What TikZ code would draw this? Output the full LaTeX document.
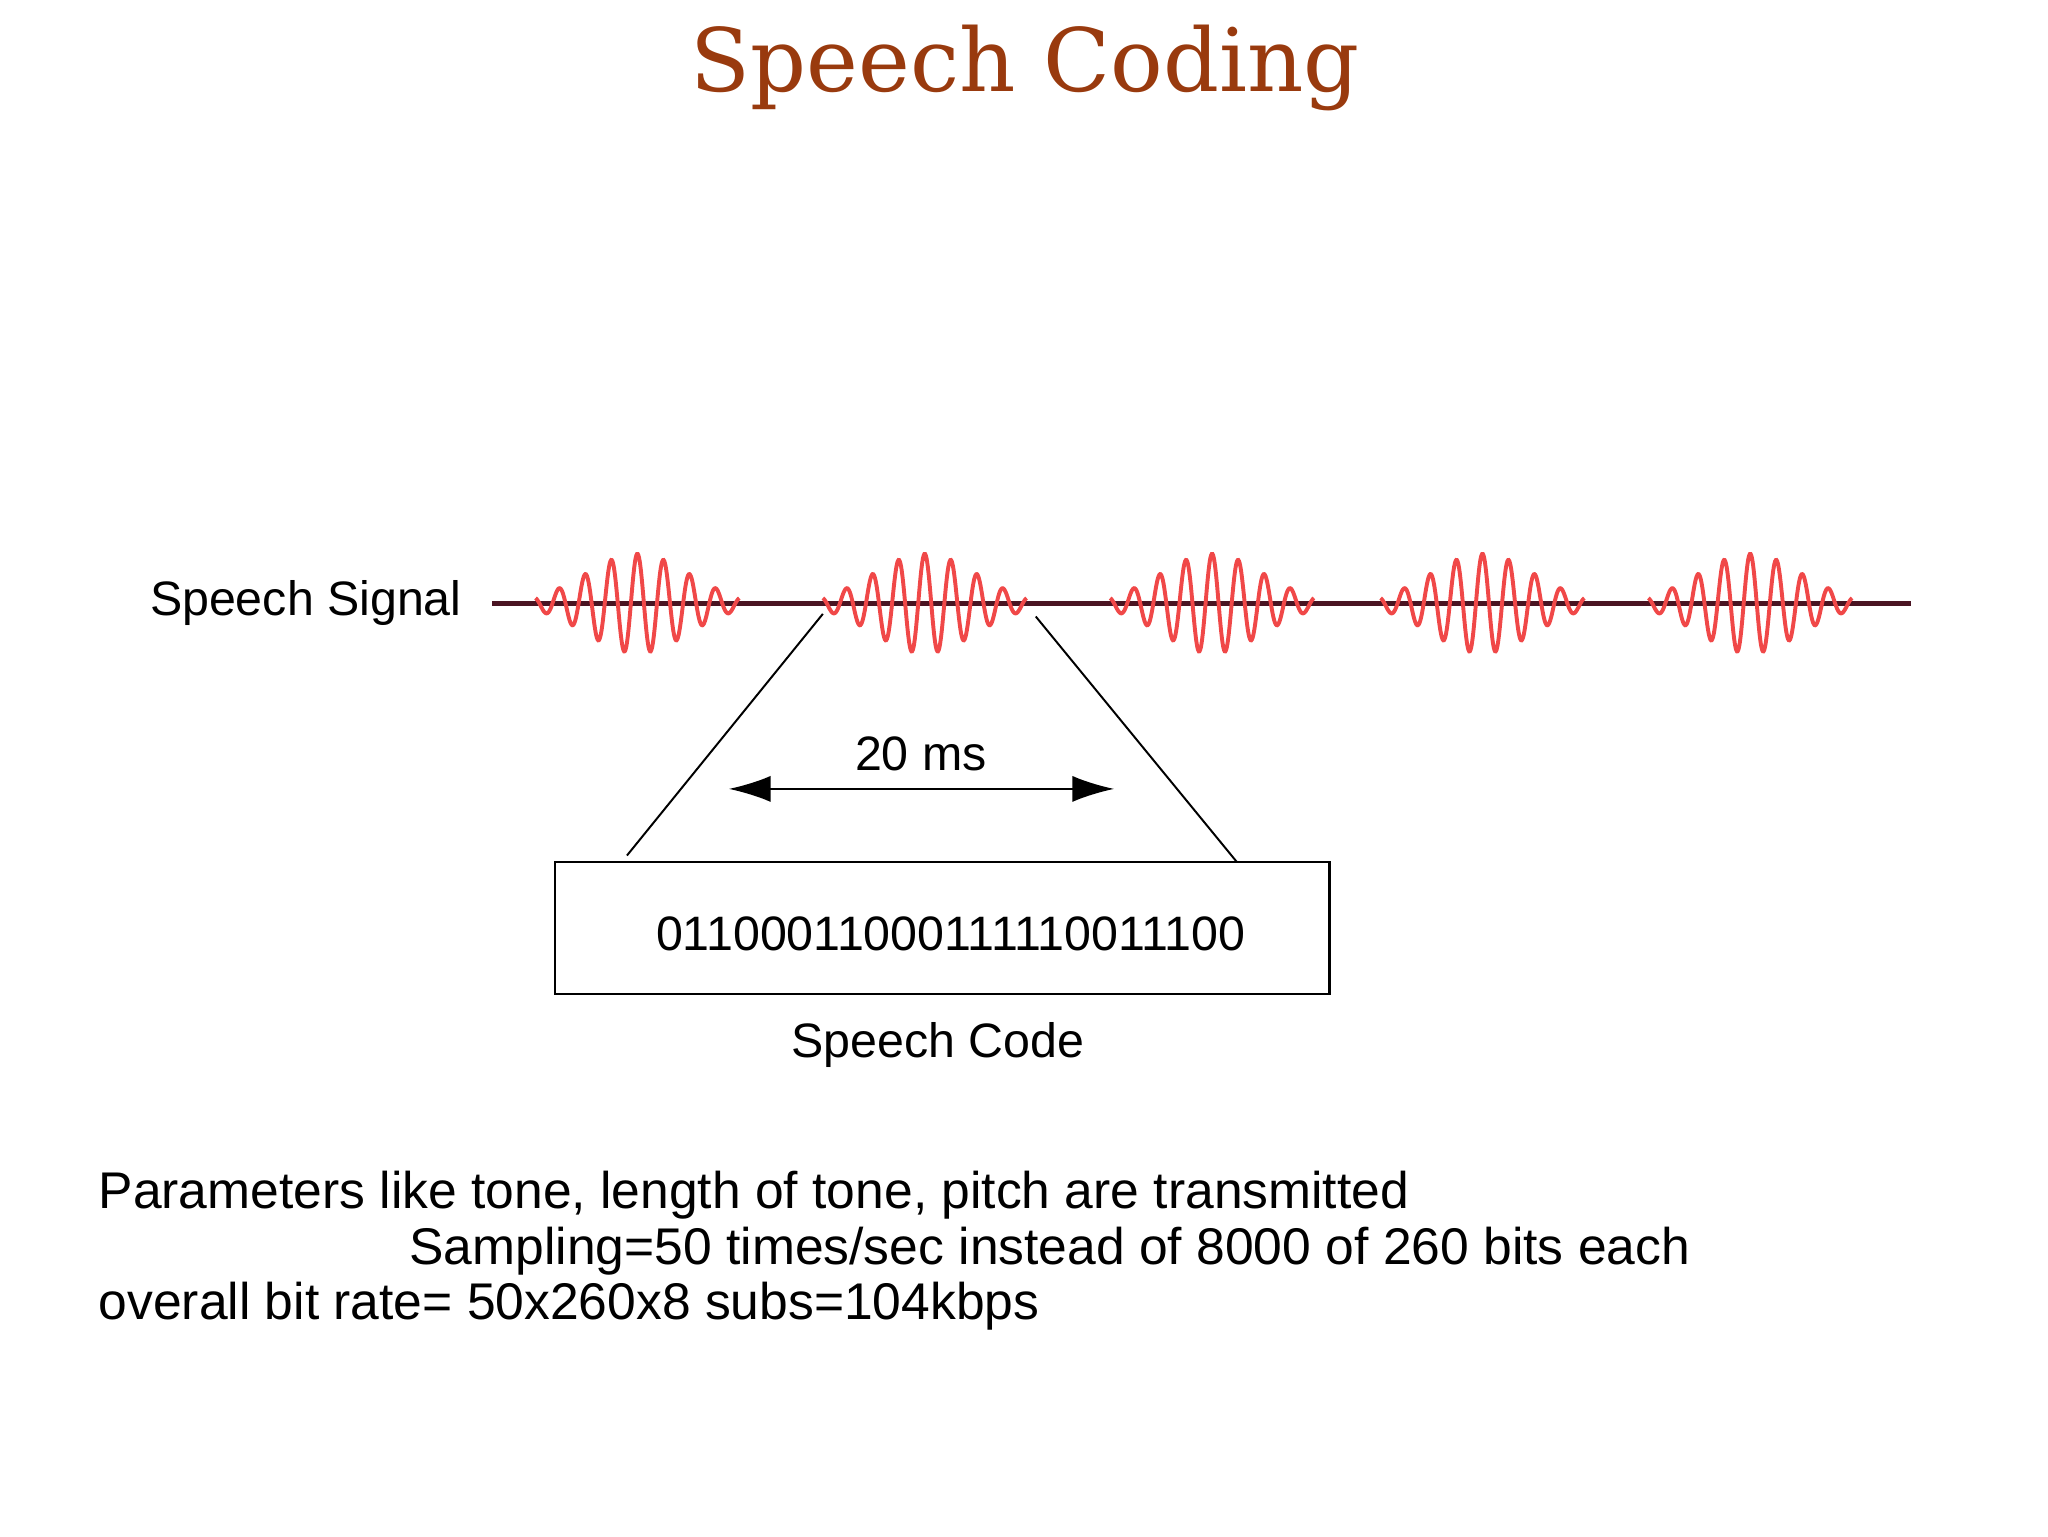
\documentclass[tikz,border=0pt]{standalone}
\usepackage{fontspec}
\setmainfont{Liberation Sans}
\newfontfamily\titlefont{DejaVu Serif}
\usetikzlibrary{arrows.meta}
\definecolor{titlec}{HTML}{993A0E}
\definecolor{wavec}{HTML}{F04848}
\definecolor{basec}{HTML}{4A1422}
\tikzset{lbl/.style={font=\fontsize{37}{44}\selectfont},
 body/.style={font=\fontsize{39.5}{46}\selectfont,anchor=west},
 thin line/.style={line width=1.5pt}}
\begin{document}
\begin{tikzpicture}[x=1pt,y=-1pt]
\useasboundingbox (0,0) rectangle (1568,1176);
\node (title) at (785,52) {\titlefont\fontsize{67}{78}\selectfont\color{titlec}Speech Coding};
\node[lbl,anchor=east] (sig) at (357,462) {Speech Signal};
\coordinate (b0) at (377,462); \coordinate (b1) at (1463,462);
\draw[basec,line width=3.5pt] (b0) -- (b1);
\foreach \c in {488,708,928,1135,1340}{
 \draw[wavec,line width=3pt,samples=300,smooth,domain=-78:78]
  plot ({\c+\x},{462-38*exp(-(\x/55)^2)*cos(18*\x)});
}
\coordinate (l1) at (630,470); \coordinate (l2) at (480,655);
\coordinate (r1) at (793,472); \coordinate (r2) at (947,660);
\draw[thin line] (l1) -- (l2);
\draw[thin line] (r1) -- (r2);
\node[draw,line width=2pt,minimum width=593pt,minimum height=101pt,inner sep=0] (box) at (721.5,710.5) {};
\node[lbl] (bits) at (728,715) {01100011000111110011100};
\node[lbl] (ms) at (705,577) {20 ms};
\coordinate (a1) at (558,604); \coordinate (a2) at (853,604);
\draw[thin line,{Latex[length=32pt,width=20pt]}-{Latex[length=32pt,width=20pt]}] (a1) -- (a2);
\node[lbl] (code) at (718,800) {Speech Code};
\node[body] (t1) at (72,915) {Parameters like tone, length of tone, pitch are transmitted};
\node[body] (t2) at (310,958) {Sampling=50 times/sec instead of 8000 of 260 bits each};
\node[body] (t3) at (72,1000) {overall bit rate= 50x260x8 subs=104kbps};
\end{tikzpicture}
\end{document}
